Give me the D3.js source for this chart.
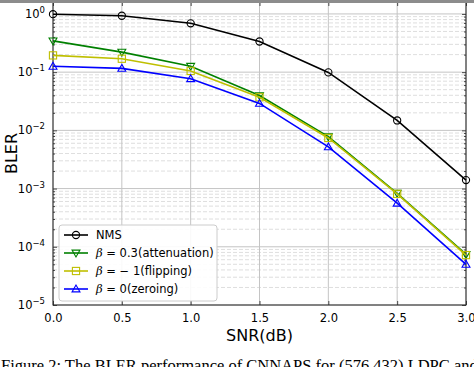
<!DOCTYPE html>
<html>
<head>
<meta charset="utf-8">
<script src="https://cdn.jsdelivr.net/npm/d3@7"></script>
<style>
  body { margin: 0; background: #fff; }
  svg { display: block; font-family: "DejaVu Sans", sans-serif; }
</style>
</head>
<body>
<div class="chart"></div>
<script>
// SNR points (dB)
const snr = [0, 0.5, 1.0, 1.5, 2.0, 2.5, 3.0];

// BLER per curve
const nmsBler = [0.99, 0.93, 0.69, 0.336, 0.099, 0.0148, 0.0014];
const attenBler = [0.345, 0.221, 0.126, 0.0396, 0.0078, 0.00083, 0.000074];
const flipBler = [0.194, 0.17, 0.105, 0.037, 0.0074, 0.00081, 0.000072];
const zeroBler = [0.126, 0.116, 0.077, 0.029, 0.0052, 0.00056, 0.00005];

// tick labels
const xTicks = [0, 0.5, 1.0, 1.5, 2.0, 2.5, 3.0];
const yDecades = [0, -1, -2, -3, -4, -5];

const seriesNames = ["NMS", "β = 0.3(attenuation)", "β = − 1(flipping)", "β = 0(zeroing)"];

const series = [
  { name: seriesNames[0], values: nmsBler, color: "#000000", marker: "circle" },
  { name: seriesNames[1], values: attenBler, color: "#008000", marker: "tridown" },
  { name: seriesNames[2], values: flipBler, color: "#bfbf00", marker: "square" },
  { name: seriesNames[3], values: zeroBler, color: "#0000ff", marker: "triup" }
];

const width = 474, height = 367;
const plot = { left: 53, right: 466, top: 2, bottom: 305 };

const svg = d3.select(".chart").append("svg")
  .attr("width", width)
  .attr("height", height);

const x = d3.scaleLinear().domain([0, 3]).range([plot.left, plot.right]);
const y = d3.scaleLog().domain([1e-5, Math.pow(10, 0.205)]).range([plot.bottom, plot.top]);

// minor tick values 2..9 for each decade
const minorVals = [];
for (let e = -5; e <= 0; e++) {
  for (let m = 2; m <= 9; m++) {
    const v = m * Math.pow(10, e);
    if (v < y.domain()[1]) minorVals.push(v);
  }
}

// grid
const grid = svg.append("g");
grid.selectAll(".minor").data(minorVals).enter().append("line")
  .attr("x1", plot.left).attr("x2", plot.right)
  .attr("y1", d => y(d)).attr("y2", d => y(d))
  .attr("stroke", "#d6d6d6").attr("stroke-width", 0.8)
  .attr("stroke-dasharray", "4,2");
grid.selectAll(".majy").data(yDecades).enter().append("line")
  .attr("x1", plot.left).attr("x2", plot.right)
  .attr("y1", d => y(Math.pow(10, d))).attr("y2", d => y(Math.pow(10, d)))
  .attr("stroke", "#c4c4c4").attr("stroke-width", 1);
grid.selectAll(".majx").data(xTicks).enter().append("line")
  .attr("x1", d => x(d)).attr("x2", d => x(d))
  .attr("y1", plot.top).attr("y2", plot.bottom)
  .attr("stroke", "#c4c4c4").attr("stroke-width", 1);

// axes with inward ticks
const xAxisB = d3.axisBottom(x).tickValues(xTicks).tickFormat(d3.format(".1f")).tickSizeInner(-4).tickSizeOuter(0).tickPadding(9);
const xAxisT = d3.axisTop(x).tickValues(xTicks).tickFormat("").tickSizeInner(-4).tickSizeOuter(0);
const yAxisL = d3.axisLeft(y).tickValues(yDecades.map(d => Math.pow(10, d))).tickFormat("").tickSizeInner(-4).tickSizeOuter(0);
const yAxisR = d3.axisRight(y).tickValues(yDecades.map(d => Math.pow(10, d))).tickFormat("").tickSizeInner(-4).tickSizeOuter(0);
const yMinL = d3.axisLeft(y).tickValues(minorVals).tickFormat("").tickSizeInner(-2).tickSizeOuter(0);
const yMinR = d3.axisRight(y).tickValues(minorVals).tickFormat("").tickSizeInner(-2).tickSizeOuter(0);

const gx = svg.append("g").attr("transform", `translate(0,${plot.bottom})`).call(xAxisB);
gx.selectAll("text").attr("font-size", 11.5).attr("fill", "#000").attr("font-family", "DejaVu Sans");
svg.append("g").attr("transform", `translate(0,${plot.top})`).call(xAxisT);
svg.append("g").attr("transform", `translate(${plot.left},0)`).call(yAxisL);
svg.append("g").attr("transform", `translate(${plot.right},0)`).call(yAxisR);
svg.append("g").attr("transform", `translate(${plot.left},0)`).call(yMinL);
svg.append("g").attr("transform", `translate(${plot.right},0)`).call(yMinR);
svg.selectAll(".domain").remove();
svg.selectAll(".tick line").attr("stroke", "#222").attr("stroke-width", 0.8);

// y tick labels as 10^n
const yLab = svg.append("g");
yDecades.forEach(d => {
  const t = yLab.append("text")
    .attr("x", 45)
    .attr("y", y(Math.pow(10, d)) + 4)
    .attr("text-anchor", "end")
    .attr("font-size", 11.5);
  t.append("tspan").text("10");
  t.append("tspan").attr("dy", -5).attr("font-size", 8.5).text(d === 0 ? "0" : "−" + (-d));
});

// spines
svg.append("rect")
  .attr("x", plot.left).attr("y", plot.top)
  .attr("width", plot.right - plot.left).attr("height", plot.bottom - plot.top)
  .attr("fill", "none").attr("stroke", "#222").attr("stroke-width", 1);

// top scan band
svg.append("rect").attr("x", 0).attr("y", 0).attr("width", width).attr("height", 3).attr("fill", "#8c8c8c");

// marker drawing
function drawMarker(g, type, cx, cy, color) {
  const s = 3.6;
  if (type === "circle") {
    g.append("circle").attr("cx", cx).attr("cy", cy).attr("r", s)
      .attr("fill", "none").attr("stroke", color).attr("stroke-width", 1.1);
  } else if (type === "square") {
    g.append("rect").attr("x", cx - s).attr("y", cy - s).attr("width", 2 * s).attr("height", 2 * s)
      .attr("fill", "none").attr("stroke", color).attr("stroke-width", 1.1);
  } else {
    const dir = type === "triup" ? -1 : 1;
    const pts = [[cx, cy + dir * s * 1.1], [cx - s * 1.1, cy - dir * s * 0.8], [cx + s * 1.1, cy - dir * s * 0.8]];
    g.append("polygon").attr("points", pts.map(p => p.join(",")).join(" "))
      .attr("fill", "none").attr("stroke", color).attr("stroke-width", 1.1);
  }
}

const line = d3.line().x((d, i) => x(snr[i])).y(d => y(d));

series.forEach(s => {
  const g = svg.append("g");
  g.append("path").datum(s.values)
    .attr("d", line)
    .attr("fill", "none")
    .attr("stroke", s.color)
    .attr("stroke-width", 1.6);
  s.values.forEach((v, i) => drawMarker(g, s.marker, x(snr[i]), y(v), s.color));
});

// legend
const leg = svg.append("g");
leg.append("rect")
  .attr("x", 59).attr("y", 225).attr("width", 158).attr("height", 76)
  .attr("rx", 3).attr("fill", "#fff").attr("fill-opacity", 0.9)
  .attr("stroke", "#cccccc").attr("stroke-width", 1);
series.forEach((s, i) => {
  const ly = 235 + i * 18;
  leg.append("line").attr("x1", 64).attr("x2", 88).attr("y1", ly).attr("y2", ly)
    .attr("stroke", s.color).attr("stroke-width", 1.6);
  drawMarker(leg, s.marker, 76, ly, s.color);
  const t = leg.append("text").attr("x", 96).attr("y", ly + 4).attr("font-size", 11.5);
  if (i === 0) {
    t.text(s.name);
  } else {
    t.append("tspan").attr("font-family", "DejaVu Serif").attr("font-style", "italic").text("β");
    t.append("tspan").text(s.name.slice(1));
  }
});

// axis titles
svg.append("text")
  .attr("x", (plot.left + plot.right) / 2).attr("y", 341)
  .attr("text-anchor", "middle").attr("font-size", 16)
  .text("SNR(dB)");
svg.append("text")
  .attr("transform", `translate(17,${(plot.top + plot.bottom) / 2}) rotate(-90)`)
  .attr("text-anchor", "middle").attr("font-size", 16)
  .text("BLER");

// caption (cut by the image edge)
svg.append("text")
  .attr("x", 1).attr("y", 371)
  .attr("font-family", "Liberation Serif, serif").attr("font-size", 16.5)
  .text("Figure 2:  The BLER performance of CNNAPS for (576,432) LDPC and");
</script>
</body>
</html>
